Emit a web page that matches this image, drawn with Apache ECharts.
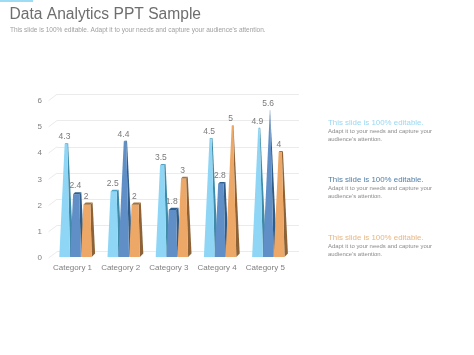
<!DOCTYPE html>
<html>
<head>
<meta charset="utf-8">
<style>
html, body { margin: 0; padding: 0; background: #fff; }
#chart { width: 474px; height: 355px; }
</style>
<script src="https://cdn.jsdelivr.net/npm/echarts@6/dist/echarts.min.js"></script>
</head>
<body>
<div id="chart"></div>
<script>
const categories = ['Category 1', 'Category 2', 'Category 3', 'Category 4', 'Category 5']
const series1 = [4.3, 2.5, 3.5, 4.5, 4.9]
const series2 = [2.4, 4.4, 1.8, 2.8, 5.6]
const series3 = [2, 2, 3, 5, 4]
const yTicks = [0, 1, 2, 3, 4, 5, 6]

const FONT = '"Liberation Sans", Arial, sans-serif'
const APEX = 5.7      // value at which a pyramid would close to a point
const HALF = 5.4      // half of the base width
const GAP = 10.8      // distance between bars of a cluster
const DX = 3.4
const DY = 3.4
const DROP = 2.8      // the front of the floor sits below the zero of the scale

const chart = echarts.init(document.getElementById('chart'))

const makeBar = (name, data, slot, front, side, top) => ({
    name,
    type: 'custom',
    xAxisIndex: 0,
    yAxisIndex: 0,
    data: data.map((v, i) => [i, v]),
    encode: { x: 0, y: 1 },
    renderItem: (params, api) => {
        const value = api.value(1)
        const base = api.coord([api.value(0), 0])
        const head = api.coord([api.value(0), value])
        const cx = base[0] + slot * GAP
        const floor = base[1] + DROP
        const k = 1 - value / APEX
        const topX = cx + DX / 2
        const topY = head[1] + DY / 2 * k
        const fl = [topX - (HALF + DX / 2) * k, topY + DY / 2 * k]
        const fr = [topX + (HALF - DX / 2) * k, topY + DY / 2 * k]
        const bl = [topX - (HALF - DX / 2) * k, topY - DY / 2 * k]
        const br = [topX + (HALF + DX / 2) * k, topY - DY / 2 * k]
        const b0 = [cx - HALF, floor]
        const b1 = [cx + HALF, floor]
        const b2 = [cx + HALF + DX, floor - DY]
        return {
            type: 'group',
            children: [
                { type: 'polygon', shape: { points: [b1, b2, br, fr] }, style: { fill: side } },
                { type: 'polygon', shape: { points: [b0, b1, fr, fl] }, style: { fill: front } },
                { type: 'polygon', shape: { points: [fl, fr, br, bl] }, style: { fill: top } },
                {
                    type: 'text',
                    style: {
                        text: String(value),
                        x: cx - 0.2,
                        y: head[1] - 6.2,
                        align: 'center',
                        verticalAlign: 'middle',
                        font: '8.5px ' + FONT,
                        fill: '#7a7a7a'
                    }
                }
            ]
        }
    }
})

const sideNote = (y, color) => [
    {
        type: 'text',
        left: 328,
        top: y,
        style: { text: 'This slide is 100% editable.', font: '7.9px ' + FONT, fill: color }
    },
    {
        type: 'text',
        left: 328,
        top: y + 9,
        style: {
            text: 'Adapt it to your needs and capture your\naudience\'s attention.',
            font: '5.95px ' + FONT,
            lineHeight: 7.6,
            fill: '#8a8a8a'
        }
    }
]

const option = {
    backgroundColor: '#fff',
    animation: false,
    grid: [
        { left: 51.4, width: 241, top: 99.4, height: 154.8 },
        { left: 57, width: 242, top: 94.3, height: 157.4 }
    ],
    xAxis: [
        {
            type: 'category',
            gridIndex: 0,
            data: categories,
            axisLine: { show: false },
            axisTick: { show: false },
            axisLabel: { color: '#7f7f7f', fontSize: 8, fontFamily: FONT, margin: 9.5, interval: 0, padding: [0, 6, 0, 0] }
        },
        { type: 'category', gridIndex: 1, data: categories, show: false }
    ],
    yAxis: [
        { type: 'value', gridIndex: 0, min: 0, max: 6, interval: 1, show: false },
        {
            type: 'value',
            gridIndex: 1,
            min: 0,
            max: 6,
            interval: 1,
            axisLine: { show: false },
            axisTick: { show: false },
            splitLine: { lineStyle: { color: '#ebebeb', width: 1 } },
            axisLabel: { color: '#7f7f7f', fontSize: 8, fontFamily: FONT, margin: 15, verticalAlign: 'top', lineHeight: 13 }
        }
    ],
    graphic: [
        { type: 'rect', shape: { x: 0, y: 0, width: 33, height: 2 }, style: { fill: '#9ddcf5' } },
        {
            type: 'text',
            left: 9.5,
            top: 7,
            style: { text: 'Data Analytics PPT Sample', font: '15.6px ' + FONT, fill: '#6e6e6e' }
        },
        {
            type: 'text',
            left: 10,
            top: 27,
            style: {
                text: 'This slide is 100% editable. Adapt it to your needs and capture your audience\'s attention.',
                font: '6.5px ' + FONT,
                fill: '#a0a0a0'
            }
        },
        ...sideNote(118.5, '#9ad8f2'),
        ...sideNote(176, '#4f7ea6'),
        ...sideNote(233.5, '#e8b680')
    ],
    series: [
        {
            name: 'wall ticks',
            type: 'custom',
            xAxisIndex: 1,
            yAxisIndex: 1,
            silent: true,
            data: yTicks.map(v => [0, v]),
            encode: { x: 0, y: 1 },
            renderItem: (params, api) => {
                const p = api.coord([0, api.value(1)])
                const x0 = p[0] - api.size([1, 0])[0] / 2
                return {
                    type: 'line',
                    shape: { x1: x0, y1: p[1], x2: x0 - 8.4, y2: p[1] + 6.3 },
                    style: { stroke: '#ebebeb', lineWidth: 1 }
                }
            }
        },
        makeBar('Series 1', series1, -1, '#8fd6f6', '#3f8aa6', '#4fa3c4'),
        makeBar('Series 2', series2, 0, '#5f8fc6', '#2f5c88', '#2f5f8e'),
        makeBar('Series 3', series3, 1, '#eda766', '#8c6236', '#a87238')
    ]
}

chart.setOption(option)
</script>
</body>
</html>
